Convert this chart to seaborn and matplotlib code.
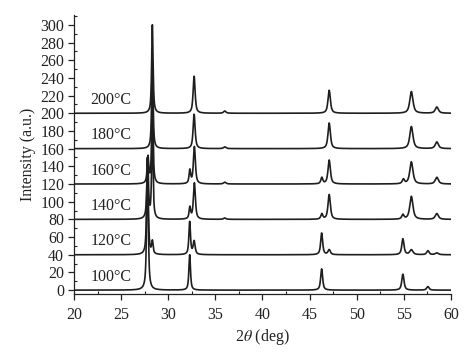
import numpy as np
import pandas as pd
import matplotlib
matplotlib.use("Agg")
import matplotlib.pyplot as plt
import seaborn as sns
from matplotlib.ticker import MultipleLocator

# ---- data ----
temps = ["100", "120", "140", "160", "180", "200"]
offsets = [0, 40, 80, 120, 160, 200]

pos_100 = [27.80, 32.28, 46.28, 54.90, 57.55]
h_100 = [150, 40, 24, 18, 4]
w_100 = [0.20, 0.20, 0.25, 0.28, 0.30]

pos_120 = [27.80, 28.32, 32.28, 32.75, 46.28, 47.08, 54.90, 55.80, 57.55, 58.50]
h_120 = [108, 14, 37, 15, 24.5, 5.5, 18, 5.5, 4.5, 2]
w_120 = [0.20, 0.18, 0.20, 0.25, 0.25, 0.30, 0.28, 0.40, 0.30, 0.40]

pos_140 = [27.82, 28.32, 32.30, 32.78, 36.00, 46.30, 47.08, 54.90, 55.80, 58.50]
h_140 = [68, 100, 13, 41, 1.5, 6, 28, 5, 26, 6.5]
w_140 = [0.20, 0.18, 0.20, 0.25, 0.30, 0.25, 0.30, 0.28, 0.40, 0.40]

pos_160 = [27.85, 28.32, 32.30, 32.78, 36.00, 46.30, 47.08, 54.95, 55.80, 58.50]
h_160 = [30, 100, 15, 42, 2, 7, 27, 5, 25, 7.5]
w_160 = [0.20, 0.18, 0.20, 0.25, 0.30, 0.25, 0.30, 0.28, 0.40, 0.40]

pos_180 = [28.32, 32.75, 36.00, 47.08, 55.80, 58.50]
h_180 = [100, 39, 2, 29, 25, 7.5]
w_180 = [0.18, 0.25, 0.30, 0.30, 0.40, 0.40]

pos_200 = [28.32, 32.75, 36.00, 47.08, 55.80, 58.50]
h_200 = [100, 42, 2.5, 26, 24.5, 7]
w_200 = [0.18, 0.25, 0.30, 0.30, 0.40, 0.40]

label_x = 23.9
label_dy = 15

series = {
    "100": (pos_100, h_100, w_100),
    "120": (pos_120, h_120, w_120),
    "140": (pos_140, h_140, w_140),
    "160": (pos_160, h_160, w_160),
    "180": (pos_180, h_180, w_180),
    "200": (pos_200, h_200, w_200),
}

two_theta = np.arange(20.0, 60.0001, 0.02)


def profile(x, pos, h, w, eta=0.75):
    y = np.zeros_like(x)
    for p, a, fw in zip(pos, h, w):
        g = 0.5 * fw
        lor = 1.0 / (1.0 + ((x - p) / g) ** 2)
        gau = np.exp(-np.log(2) * ((x - p) / g) ** 2)
        y += a * (eta * lor + (1 - eta) * gau)
    return y


frames = []
for t, off in zip(temps, offsets):
    pos, h, w = series[t]
    frames.append(pd.DataFrame({"two_theta": two_theta,
                                "intensity": profile(two_theta, pos, h, w) + off,
                                "temp": t}))
df = pd.concat(frames, ignore_index=True)

# ---- style ----
sns.set_theme(style="ticks")
plt.rcParams['font.family'] = ['Liberation Serif', 'DejaVu Serif']
plt.rcParams['mathtext.fontset'] = 'stix'

fig = plt.figure(figsize=(4.74, 3.64), dpi=100)
ax = fig.add_axes([0.156, 0.192, 0.7954, 0.7665])

line_color = "#1e1e1e"
sns.lineplot(data=df, x="two_theta", y="intensity", hue="temp",
             palette={t: line_color for t in temps}, legend=False,
             linewidth=1.2, ax=ax, sort=False, estimator=None)

for t, off in zip(temps, offsets):
    ax.text(label_x, off + label_dy, f"{t}°C", ha="center", va="center",
            fontsize=11.5, color="#222222")

ax.set_xlim(20, 60)
ax.set_ylim(-4.5, 311)
ax.xaxis.set_major_locator(MultipleLocator(5))
ax.xaxis.set_minor_locator(MultipleLocator(2.5))
ax.yaxis.set_major_locator(MultipleLocator(20))
ax.yaxis.set_minor_locator(MultipleLocator(10))
ax.set_yticks(np.arange(0, 301, 20))

ax.tick_params(axis="both", which="major", direction="out", length=4,
               width=0.9, labelsize=11.5, colors="#222222")
ax.tick_params(axis="x", which="major", pad=5)
ax.tick_params(axis="y", which="major", pad=3)
ax.tick_params(axis="both", which="minor", direction="in", length=2.5,
               width=0.8, colors="#222222")

ax.set_xlabel(r"2$\theta$ (deg)", fontsize=11.5, color="#222222", labelpad=3)
ax.set_ylabel("Intensity (a.u.)", fontsize=11.5, color="#222222", labelpad=3)

sns.despine(ax=ax)
for s in ["left", "bottom"]:
    ax.spines[s].set_color("#222222")
    ax.spines[s].set_linewidth(0.9)

fig.savefig("out.png", dpi=100)
